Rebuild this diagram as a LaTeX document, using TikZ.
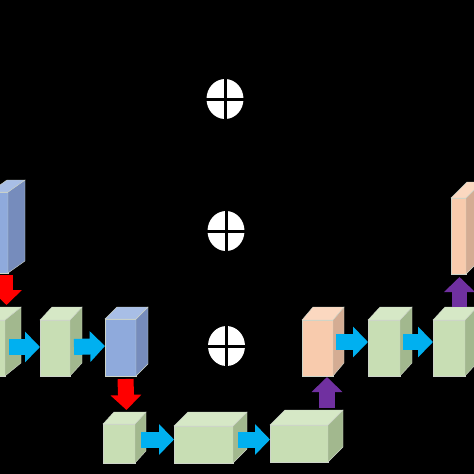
\documentclass[tikz,border=0pt]{standalone}
\usepackage{tikz}
\definecolor{gfront}{RGB}{200, 222, 180}
\definecolor{gside}{RGB}{162, 184, 142}
\definecolor{gtop}{RGB}{214, 232, 198}
\definecolor{bfront}{RGB}{143, 170, 220}
\definecolor{bside}{RGB}{118, 140, 188}
\definecolor{btop}{RGB}{168, 190, 230}
\definecolor{ofront}{RGB}{248, 203, 173}
\definecolor{oside}{RGB}{212, 172, 147}
\definecolor{otop}{RGB}{251, 216, 192}
\definecolor{edge}{RGB}{205, 212, 200}
\definecolor{cyanarr}{RGB}{0, 176, 240}
\definecolor{purparr}{RGB}{112, 48, 160}
\usetikzlibrary{arrows.meta}
\usetikzlibrary{shapes.geometric}

\begin{document}
\begin{tikzpicture}
[face/.style={rectangle, inner sep=0pt, outer sep=0pt, anchor=north west, draw=edge, line width=0.4pt},
 blockarrow/.style={line width=16pt, -{Triangle[length=15pt, width=30pt]}},
 addnode/.style={ellipse, inner sep=0pt, fill=white, minimum width=37pt, minimum height=40pt},
 cross/.style={line width=3pt, color=black}]
\clip (0pt, 0pt) rectangle (474pt, -474pt);
\fill [black] (0pt, 0pt) rectangle (474pt, -474pt);
% upper left
\node (b1) [face, fill=bfront, minimum width=18pt, minimum height=81pt] at (-10pt, -192pt) {};
\filldraw [fill=bside, draw=edge, line width=0.4pt] (b1.north east) -- ++(17pt, 12pt) -- ++(0pt, -81pt) -- (b1.south east) -- cycle;
\filldraw [fill=btop, draw=edge, line width=0.4pt] (b1.north west) -- ++(17pt, 12pt) -- ++(18pt, 0pt) -- (b1.north east) -- cycle;
% middle row, left
\node (g1) [face, fill=gfront, minimum width=30pt, minimum height=56pt] at (-25pt, -320pt) {};
\filldraw [fill=gside, draw=edge, line width=0.4pt] (g1.north east) -- ++(16pt, 13pt) -- ++(0pt, -56pt) -- (g1.south east) -- cycle;
\filldraw [fill=gtop, draw=edge, line width=0.4pt] (g1.north west) -- ++(16pt, 13pt) -- ++(30pt, 0pt) -- (g1.north east) -- cycle;
\node (g2) [face, fill=gfront, minimum width=30pt, minimum height=56pt] at (40pt, -320pt) {};
\filldraw [fill=gside, draw=edge, line width=0.4pt] (g2.north east) -- ++(12pt, 13pt) -- ++(0pt, -56pt) -- (g2.south east) -- cycle;
\filldraw [fill=gtop, draw=edge, line width=0.4pt] (g2.north west) -- ++(12pt, 13pt) -- ++(30pt, 0pt) -- (g2.north east) -- cycle;
\node (b2) [face, fill=bfront, minimum width=31pt, minimum height=57pt] at (105pt, -319pt) {};
\filldraw [fill=bside, draw=edge, line width=0.4pt] (b2.north east) -- ++(12pt, 12pt) -- ++(0pt, -57pt) -- (b2.south east) -- cycle;
\filldraw [fill=btop, draw=edge, line width=0.4pt] (b2.north west) -- ++(12pt, 12pt) -- ++(31pt, 0pt) -- (b2.north east) -- cycle;
% bottom row
\node (g3) [face, fill=gfront, minimum width=32pt, minimum height=39pt] at (103pt, -424pt) {};
\filldraw [fill=gside, draw=edge, line width=0.4pt] (g3.north east) -- ++(11pt, 12pt) -- ++(0pt, -39pt) -- (g3.south east) -- cycle;
\filldraw [fill=gtop, draw=edge, line width=0.4pt] (g3.north west) -- ++(11pt, 12pt) -- ++(32pt, 0pt) -- (g3.north east) -- cycle;
\node (g4) [face, fill=gfront, minimum width=59pt, minimum height=37pt] at (174pt, -426pt) {};
\filldraw [fill=gside, draw=edge, line width=0.4pt] (g4.north east) -- ++(14pt, 14pt) -- ++(0pt, -37pt) -- (g4.south east) -- cycle;
\filldraw [fill=gtop, draw=edge, line width=0.4pt] (g4.north west) -- ++(14pt, 14pt) -- ++(59pt, 0pt) -- (g4.north east) -- cycle;
\node (g5) [face, fill=gfront, minimum width=58pt, minimum height=37pt] at (270pt, -425pt) {};
\filldraw [fill=gside, draw=edge, line width=0.4pt] (g5.north east) -- ++(15pt, 15pt) -- ++(0pt, -37pt) -- (g5.south east) -- cycle;
\filldraw [fill=gtop, draw=edge, line width=0.4pt] (g5.north west) -- ++(15pt, 15pt) -- ++(58pt, 0pt) -- (g5.north east) -- cycle;
% middle row, right
\node (o1) [face, fill=ofront, minimum width=31pt, minimum height=56pt] at (302pt, -320pt) {};
\filldraw [fill=oside, draw=edge, line width=0.4pt] (o1.north east) -- ++(11pt, 13pt) -- ++(0pt, -56pt) -- (o1.south east) -- cycle;
\filldraw [fill=otop, draw=edge, line width=0.4pt] (o1.north west) -- ++(11pt, 13pt) -- ++(31pt, 0pt) -- (o1.north east) -- cycle;
\node (g6) [face, fill=gfront, minimum width=32pt, minimum height=56pt] at (368pt, -320pt) {};
\filldraw [fill=gside, draw=edge, line width=0.4pt] (g6.north east) -- ++(12pt, 13pt) -- ++(0pt, -56pt) -- (g6.south east) -- cycle;
\filldraw [fill=gtop, draw=edge, line width=0.4pt] (g6.north west) -- ++(12pt, 13pt) -- ++(32pt, 0pt) -- (g6.north east) -- cycle;
\node (g7) [face, fill=gfront, minimum width=32pt, minimum height=56pt] at (433pt, -320pt) {};
\filldraw [fill=gside, draw=edge, line width=0.4pt] (g7.north east) -- ++(12pt, 13pt) -- ++(0pt, -56pt) -- (g7.south east) -- cycle;
\filldraw [fill=gtop, draw=edge, line width=0.4pt] (g7.north west) -- ++(12pt, 13pt) -- ++(32pt, 0pt) -- (g7.north east) -- cycle;
% upper right
\node (o2) [face, fill=ofront, minimum width=15pt, minimum height=76pt] at (451pt, -198pt) {};
\filldraw [fill=oside, draw=edge, line width=0.4pt] (o2.north east) -- ++(16pt, 16pt) -- ++(0pt, -76pt) -- (o2.south east) -- cycle;
\filldraw [fill=otop, draw=edge, line width=0.4pt] (o2.north west) -- ++(16pt, 16pt) -- ++(15pt, 0pt) -- (o2.north east) -- cycle;
% sums
\node (add1) [addnode] at (225pt, -99pt) {};
\node (add2) [addnode] at (226pt, -231pt) {};
\node (add3) [addnode] at (226.5pt, -346pt) {};
\draw [cross] (add1.north) to (add1.south);
\draw [cross] (add1.west) to (add1.east);
\draw [cross] (add2.north) to (add2.south);
\draw [cross] (add2.west) to (add2.east);
\draw [cross] (add3.north) to (add3.south);
\draw [cross] (add3.west) to (add3.east);
% arrows
\draw [blockarrow, line width=13pt, color=red] ([xshift=-1.5pt, yshift=-2pt]b1.south east) to ([xshift=1.5pt, yshift=15pt]g1.north east);
\draw [blockarrow, color=cyanarr] ([xshift=4pt, yshift=1pt]g1.east) to ([yshift=1pt]g2.west);
\draw [blockarrow, color=cyanarr] ([xshift=4pt, yshift=1pt]g2.east) to ([yshift=1.5pt]b2.west);
\draw [blockarrow, color=red] ([xshift=5pt, yshift=-3pt]b2.south) to ([xshift=7.5pt, yshift=14pt]g3.north);
\draw [blockarrow, color=cyanarr] ([xshift=6pt, yshift=4pt]g3.east) to ([yshift=5pt]g4.west);
\draw [blockarrow, color=cyanarr] ([xshift=5pt, yshift=5pt]g4.east) to ([yshift=4pt]g5.west);
\draw [blockarrow, color=purparr] ([xshift=28pt, yshift=17pt]g5.north) to ([xshift=9.5pt, yshift=-1pt]o1.south);
\draw [blockarrow, color=cyanarr] ([xshift=3pt, yshift=6pt]o1.east) to ([yshift=6pt]g6.west);
\draw [blockarrow, color=cyanarr] ([xshift=3pt, yshift=6pt]g6.east) to ([yshift=6pt]g7.west);
\draw [blockarrow, line width=15pt, color=purparr] ([xshift=10.5pt, yshift=13pt]g7.north) to ([xshift=1pt, yshift=-3pt]o2.south);
\end{tikzpicture}
\end{document}
